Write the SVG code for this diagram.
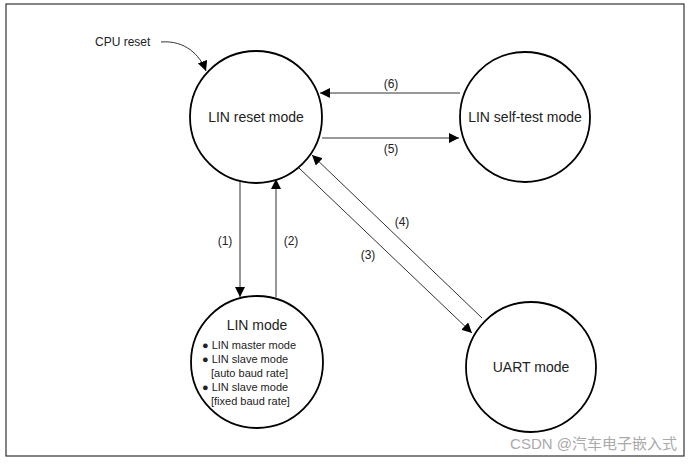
<svg xmlns="http://www.w3.org/2000/svg" width="692" height="464" viewBox="0 0 692 464">
<style>
text{font-family:"Liberation Sans",Arial,sans-serif;fill:#222}
.n{fill:#fff;stroke:#000;stroke-width:1.8}
.c{fill:none;stroke:#333;stroke-width:1}
.t{font-size:14px;text-anchor:middle}
.s{font-size:11px}
.l{font-size:12px;text-anchor:middle}
</style>
<defs><marker id="a" viewBox="0 0 10 10" refX="10" refY="5" markerWidth="10" markerHeight="10" markerUnits="userSpaceOnUse" orient="auto"><path d="M0,0L10,5L0,10z" fill="#000"/></marker></defs>
<rect x="6" y="4" width="678" height="452" fill="#fff" stroke="#333" stroke-width="1.2"/>
<g id="connectors">
<path class="c" d="M161,42 C185,40 200,55 206,71" marker-end="url(#a)"/>
<line class="c" x1="460" y1="93" x2="320" y2="93" marker-end="url(#a)"/>
<line class="c" x1="322" y1="138" x2="459" y2="138" marker-end="url(#a)"/>
<line class="c" x1="240" y1="181" x2="240" y2="297" marker-end="url(#a)"/>
<line class="c" x1="276" y1="297" x2="276" y2="179" marker-end="url(#a)"/>
<line class="c" x1="299" y1="168" x2="472" y2="333" marker-end="url(#a)"/>
<line class="c" x1="482" y1="318" x2="312" y2="155" marker-end="url(#a)"/>
<text class="l" x="391" y="88">(6)</text>
<text class="l" x="391" y="153">(5)</text>
<text class="l" x="225" y="245">(1)</text>
<text class="l" x="291" y="245">(2)</text>
<text class="l" x="402" y="226">(4)</text>
<text class="l" x="368" y="259">(3)</text>
<text x="95" y="46" style="font-size:12px">CPU reset</text>
</g>
<g id="reset"><circle class="n" cx="256" cy="117" r="66"/><text class="t" x="256" y="122">LIN reset mode</text></g>
<g id="selftest"><circle class="n" cx="525" cy="117" r="65"/><text class="t" x="525" y="122">LIN self-test mode</text></g>
<g id="lin"><circle class="n" cx="257" cy="362" r="66"/>
<text class="t" x="257" y="330">LIN mode</text>
<g class="s"><text x="202" y="349">● LIN master mode</text><text x="202" y="363">● LIN slave mode</text><text x="211" y="377">[auto baud rate]</text><text x="202" y="391">● LIN slave mode</text><text x="211" y="405">[fixed baud rate]</text></g></g>
<g id="uart"><circle class="n" cx="531" cy="367" r="65"/><text class="t" x="531" y="372">UART mode</text></g>
<text x="677" y="449" style="font-family:'Liberation Sans','Noto Sans CJK SC',sans-serif;font-size:15px;fill:#aaa;text-anchor:end">CSDN @汽车电子嵌入式</text>
</svg>
